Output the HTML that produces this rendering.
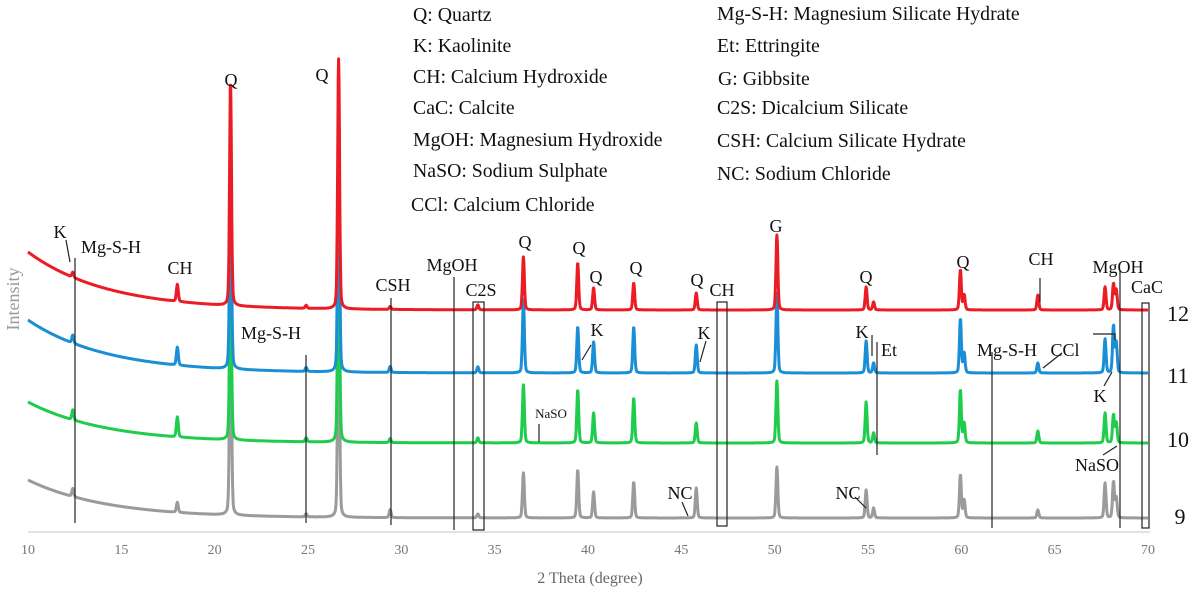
<!DOCTYPE html>
<html><head><meta charset="utf-8"><style>
html,body{margin:0;padding:0;background:#fff}
svg{display:block}
text{font-family:"Liberation Serif",serif;fill:#111}
</style></head><body>
<svg id="c" width="1200" height="594" viewBox="0 0 1200 594">
<g id="legend" font-size="19.8">
<text x="413" y="21">Q: Quartz</text>
<text x="413" y="52">K: Kaolinite</text>
<text x="413" y="83">CH: Calcium Hydroxide</text>
<text x="413" y="114">CaC: Calcite</text>
<text x="413" y="146">MgOH: Magnesium Hydroxide</text>
<text x="413" y="177">NaSO: Sodium Sulphate</text>
<text x="411" y="211">CCl: Calcium Chloride</text>
<text x="717" y="20">Mg-S-H: Magnesium Silicate Hydrate</text>
<text x="717" y="52">Et: Ettringite</text>
<text x="718" y="85">G: Gibbsite</text>
<text x="717" y="114">C2S: Dicalcium Silicate</text>
<text x="717" y="147">CSH: Calcium Silicate Hydrate</text>
<text x="717" y="180">NC: Sodium Chloride</text>
</g>
<line x1="28" y1="532" x2="1150" y2="532" stroke="#d9d9d9" stroke-width="1.5"/>
<g id="ticks"></g>
<text x="590" y="583" text-anchor="middle" font-size="16" style="fill:#666">2 Theta (degree)</text>
<text transform="translate(19,299) rotate(-90)" text-anchor="middle" font-size="18" style="fill:#999">Intensity</text>
<g id="series"></g>
<g id="ann" stroke="#222" stroke-width="1.2" fill="none">
<line x1="75" y1="258" x2="75" y2="523"/>
<line x1="66" y1="240" x2="70" y2="262"/>
<line x1="306" y1="355" x2="306" y2="523"/>
<line x1="391" y1="298" x2="391" y2="525"/>
<line x1="454" y1="277" x2="454" y2="530"/>
<rect x="473" y="302" width="11" height="228"/>
<line x1="539" y1="424" x2="539" y2="442"/>
<rect x="717" y="302" width="10" height="224"/>
<line x1="591" y1="345" x2="582" y2="360"/>
<line x1="706" y1="341" x2="700" y2="362"/>
<line x1="872" y1="335" x2="872" y2="356"/>
<line x1="877" y1="342" x2="877" y2="455"/>
<line x1="992" y1="352" x2="992" y2="528"/>
<line x1="1120" y1="270" x2="1120" y2="528"/>
<rect x="1142" y="303" width="7" height="225"/>
<polyline points="1093,334 1115,334 1115,340"/>
<line x1="1040" y1="278" x2="1040" y2="302"/>
<line x1="1062" y1="353" x2="1043" y2="368"/>
<line x1="1104" y1="386" x2="1112" y2="372"/>
<line x1="1103" y1="455" x2="1117" y2="446"/>
<line x1="682" y1="502" x2="688" y2="516"/>
<line x1="855" y1="497" x2="866" y2="508"/>
</g>
<g id="labels" font-size="18" text-anchor="middle">
<text x="231" y="86">Q</text>
<text x="322" y="81">Q</text>
<text x="60" y="238">K</text>
<text x="111" y="253">Mg-S-H</text>
<text x="180" y="274">CH</text>
<text x="393" y="291">CSH</text>
<text x="452" y="271">MgOH</text>
<text x="481" y="296">C2S</text>
<text x="525" y="248">Q</text>
<text x="579" y="254">Q</text>
<text x="596" y="283">Q</text>
<text x="636" y="274">Q</text>
<text x="697" y="286">Q</text>
<text x="722" y="296">CH</text>
<text x="776" y="232">G</text>
<text x="866" y="283">Q</text>
<text x="963" y="268">Q</text>
<text x="1041" y="265">CH</text>
<text x="1118" y="273">MgOH</text>
<text x="1147" y="293">CaC</text>
<text x="271" y="339">Mg-S-H</text>
<text x="597" y="336">K</text>
<text x="704" y="339">K</text>
<text x="862" y="338">K</text>
<text x="889" y="356">Et</text>
<text x="1007" y="356">Mg-S-H</text>
<text x="1065" y="356">CCl</text>
<text x="1100" y="402">K</text>
<text x="551" y="418" font-size="13">NaSO</text>
<text x="1097" y="471">NaSO</text>
<text x="680" y="499">NC</text>
<text x="848" y="499">NC</text>
<text x="1178" y="321" font-size="22">12</text>
<text x="1178" y="383" font-size="22">11</text>
<text x="1178" y="447" font-size="22">10</text>
<text x="1180" y="524" font-size="22">9</text>
</g>
</svg>
<script>
const xTicks = [10,15,20,25,30,35,40,45,50,55,60,65,70];
const peakPositions = [12.4,18.0,20.85,24.9,26.64,29.4,34.1,36.54,39.45,40.3,42.45,45.8,50.12,54.9,55.3,59.95,60.15,64.1,67.7,68.15,68.3];
const sample12 = [5,17,225,3,250,3,5,53,47,22,27,17,75,23,8,40,15,15,23,26,20];
const sample11 = [8,18,230,4,245,6,6,73,46,31,46,28,80,32,10,54,20,10,34,47,30];
const sample10 = [10,20,190,4,250,4,5,58,53,30,45,20,62,41,10,53,20,12,30,28,20];
const sample9 = [8,10,240,3,240,8,4,45,48,26,36,30,51,28,10,43,18,8,35,36,20];
const baselines = [310,373,443,518];
const backgroundAmps = [58,53,41,38];

const NS='http://www.w3.org/2000/svg';
function xS(t){return 28+(t-10)*(1148-28)/60;}
function yS(v,base){return base-v;}
const tg=document.getElementById('ticks');
xTicks.forEach(t=>{
  const e=document.createElementNS(NS,'text');
  e.setAttribute('x',xS(t));e.setAttribute('y',554);
  e.setAttribute('text-anchor','middle');e.setAttribute('font-size','14');
  e.setAttribute('style','fill:#777');
  
  
  e.textContent=t;tg.appendChild(e);
});
const series=[
 {vals:sample9,base:baselines[3],amp:backgroundAmps[3],color:'#9b9b9b',name:'series-9'},
 {vals:sample10,base:baselines[2],amp:backgroundAmps[2],color:'#1fcc4c',name:'series-10'},
 {vals:sample11,base:baselines[1],amp:backgroundAmps[1],color:'#1b8fd5',name:'series-11'},
 {vals:sample12,base:baselines[0],amp:backgroundAmps[0],color:'#ec1c24',name:'series-12'}
];
const sg=document.getElementById('series');
series.forEach(s=>{
  let d='';
  for(let t=10;t<=70.0001;t+=0.02){
    let v=s.amp*Math.exp(-(t-10)/4.2);
    for(let i=0;i<peakPositions.length;i++){
      const dx=(t-peakPositions[i])/0.07;
      v+=s.vals[i]*(0.8*Math.exp(-dx*dx)+0.2/(1+dx*dx));
    }
    d+=(d?'L':'M')+xS(t).toFixed(1)+','+yS(v,s.base).toFixed(1);
  }
  const p=document.createElementNS(NS,'path');
  p.setAttribute('d',d);p.setAttribute('fill','none');
  p.setAttribute('stroke',s.color);p.setAttribute('stroke-width','3');
  p.setAttribute('stroke-linejoin','round');
  
  
  sg.appendChild(p);
});
</script>
</body></html>
